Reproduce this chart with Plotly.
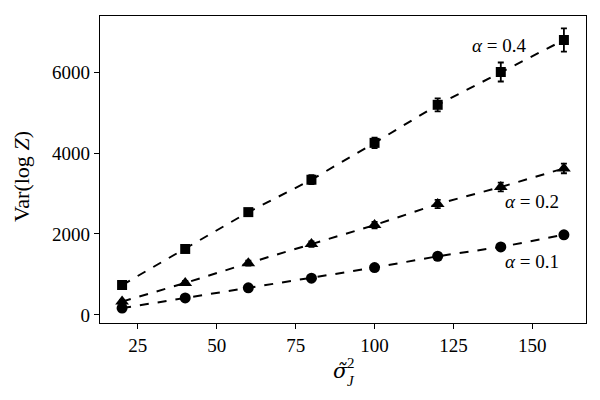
import plotly.graph_objects as go

# sigma_J^2 values on the x axis
sigma2 = [20, 40, 60, 80, 100, 120, 140, 160]

# Var(log Z) for each alpha
var_a04 = [740, 1630, 2540, 3340, 4250, 5190, 6000, 6790]
err_a04 = [60, 70, 80, 110, 130, 160, 235, 285]

var_a02 = [330, 790, 1280, 1750, 2220, 2740, 3160, 3620]
err_a02 = [40, 50, 60, 70, 80, 100, 110, 120]

var_a01 = [170, 420, 670, 910, 1170, 1450, 1680, 1980]
err_a01 = [30, 30, 40, 40, 50, 50, 60, 60]

serif = "Liberation Serif, DejaVu Serif, serif"

fig = go.Figure()

for ys, errs, sym, size in [(var_a04, err_a04, "square", 10),
                            (var_a02, err_a02, "triangle-up", 12),
                            (var_a01, err_a01, "circle", 11)]:
    fig.add_trace(
        go.Scatter(
            x=sigma2,
            y=ys,
            mode="lines+markers",
            line={"color": "black", "dash": "dash", "width": 2},
            marker={"symbol": sym, "size": size, "color": "black"},
            error_y={"type": "data", "array": errs, "visible": True,
                     "color": "black", "thickness": 1.8, "width": 3},
            showlegend=False,
        )
    )

# curve labels
ann_font = {"family": serif, "size": 19, "color": "black"}
fig.add_annotation(x=139.5, y=6650, text="<i>α</i> = 0.4", showarrow=False, font=ann_font)
fig.add_annotation(x=150, y=2800, text="<i>α</i> = 0.2", showarrow=False, font=ann_font)
fig.add_annotation(x=150, y=1330, text="<i>α</i> = 0.1", showarrow=False, font=ann_font)

axis_style = dict(
    showline=True, linecolor="black", linewidth=1.2, mirror=True,
    ticks="outside", ticklen=5, tickwidth=1, tickcolor="black",
    showgrid=False, zeroline=False, automargin=False,
    tickfont={"family": serif, "size": 19, "color": "black"},
)

fig.update_xaxes(range=[13, 167], tickvals=[25, 50, 75, 100, 125, 150], **axis_style)
fig.update_yaxes(range=[-198, 7383], tickvals=[0, 2000, 4000, 6000], **axis_style)

# x title: sigma tilde with stacked superscript 2 and subscript J
fig.add_annotation(
    x=0.494, y=-0.203, xref="paper", yref="paper", showarrow=False,
    text="<i>σ̃</i>",
    font={"family": "DejaVu Serif, serif", "size": 21, "color": "black"},
)
fig.add_annotation(
    x=0.516, y=-0.162, xref="paper", yref="paper", showarrow=False,
    text="2",
    font={"family": serif, "size": 15, "color": "black"},
)
fig.add_annotation(
    x=0.516, y=-0.220, xref="paper", yref="paper", showarrow=False,
    text="<i>J</i>",
    font={"family": serif, "size": 15, "color": "black"},
)
fig.add_annotation(
    x=-0.160, y=0.476, xref="paper", yref="paper", showarrow=False, textangle=-90,
    xanchor="center", yanchor="middle",
    text="Var(log <i>Z</i>)",
    font={"family": serif, "size": 22, "color": "black"},
)

fig.update_layout(
    width=600, height=400,
    margin={"l": 92, "r": 22, "t": 8, "b": 85},
    plot_bgcolor="white", paper_bgcolor="white",
)

fig.write_html("out.html")
